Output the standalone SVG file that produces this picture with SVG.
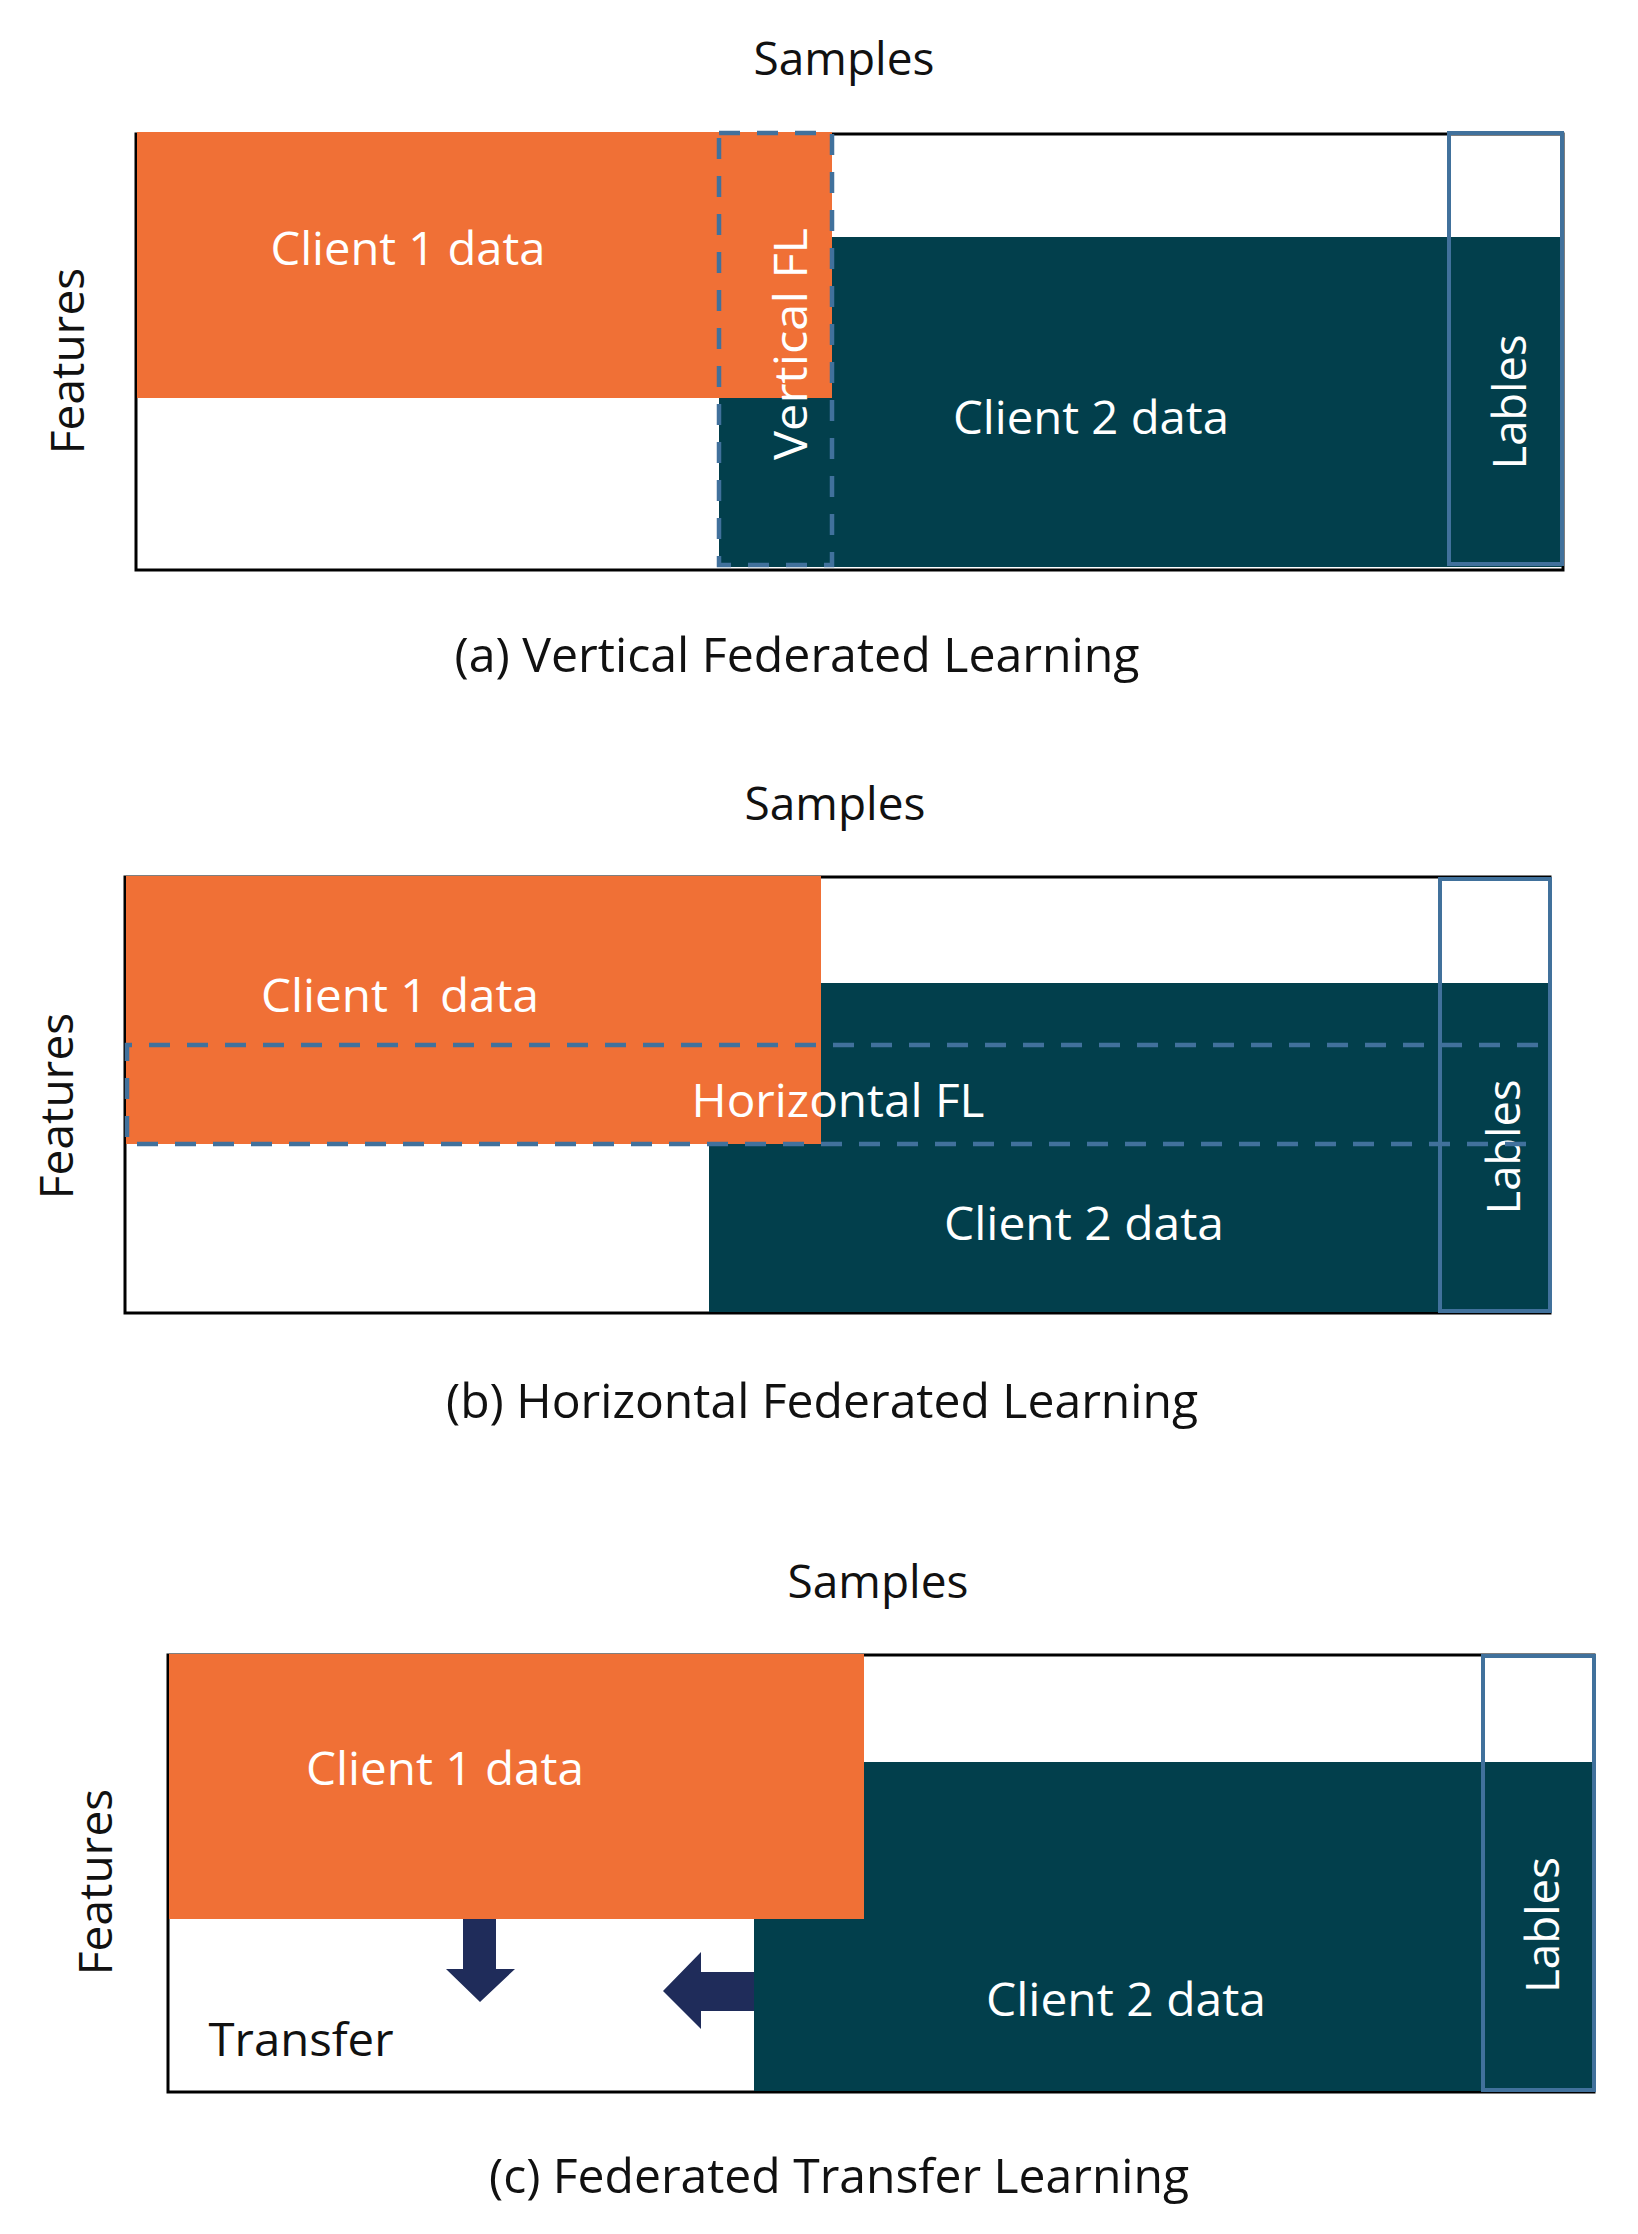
<svg xmlns="http://www.w3.org/2000/svg" width="1638" height="2234" viewBox="0 0 1638 2234">
<style>
.frame{fill:none;stroke:#000;stroke-width:3}
.c1{fill:#F07036}
.c2{fill:#023F4C}
.lab{fill:none;stroke:#41719C;stroke-width:4}
.dash{fill:none;stroke:#41719C;stroke-width:4.5;stroke-dasharray:21 17}
.t{font-family:"Open Sans","Liberation Sans",sans-serif;font-size:46px}
.w{fill:#fff}
.k{fill:#111}
.cap{font-size:48px}
.arrow{fill:#1F2C5A}
</style>
<rect width="1638" height="2234" fill="#fff"/>

<!-- (a) Vertical -->
<g id="panel-a">
  <rect class="frame" x="136" y="134" width="1427" height="436"/>
  <text class="t k" x="844" y="75" text-anchor="middle">Samples</text>
  <text class="t k" transform="translate(84,361) rotate(-90)" text-anchor="middle">Features</text>
  <text class="t k cap" x="797" y="672" text-anchor="middle" textLength="685" lengthAdjust="spacingAndGlyphs">(a) Vertical Federated Learning</text>
</g>
<g id="a-client2">
  <rect class="c2" x="832" y="237" width="730" height="330"/>
  <rect class="c2" x="719" y="398" width="114" height="169"/>
  <text class="t w" x="1091" y="434" text-anchor="middle" textLength="276" lengthAdjust="spacingAndGlyphs">Client 2 data</text>
</g>
<g id="a-client1">
  <rect class="c1" x="137" y="132" width="695" height="266"/>
  <text class="t w" x="408" y="265" text-anchor="middle" textLength="275" lengthAdjust="spacingAndGlyphs">Client 1 data</text>
</g>
<g id="a-vfl">
  <rect class="dash" x="719" y="133" width="113" height="432"/>
  <text class="t w" transform="translate(807,344) rotate(-90)" text-anchor="middle" font-size="48" textLength="232" lengthAdjust="spacingAndGlyphs">Vertical FL</text>
</g>
<g id="a-labels">
  <rect class="lab" x="1449" y="133" width="113" height="431"/>
  <text class="t w" transform="translate(1526,402) rotate(-90)" text-anchor="middle" font-size="45" textLength="135" lengthAdjust="spacingAndGlyphs">Lables</text>
</g>

<!-- (b) Horizontal -->
<g id="panel-b">
  <rect class="frame" x="125" y="877" width="1425" height="436"/>
  <text class="t k" x="835" y="820" text-anchor="middle">Samples</text>
  <text class="t k" transform="translate(73,1106) rotate(-90)" text-anchor="middle">Features</text>
  <text class="t k cap" x="822" y="1418" text-anchor="middle" textLength="752" lengthAdjust="spacingAndGlyphs">(b) Horizontal Federated Learning</text>
</g>
<g id="b-client2">
  <rect class="c2" x="821" y="983" width="728" height="329"/>
  <rect class="c2" x="709" y="1144" width="113" height="168"/>
  <text class="t w" x="1084" y="1240" text-anchor="middle" textLength="280" lengthAdjust="spacingAndGlyphs">Client 2 data</text>
</g>
<g id="b-client1">
  <rect class="c1" x="126" y="876" width="695" height="268"/>
  <text class="t w" x="400" y="1012" text-anchor="middle" textLength="278" lengthAdjust="spacingAndGlyphs">Client 1 data</text>
</g>
<g id="b-labels">
  <rect class="lab" x="1440" y="879" width="110" height="432"/>
  <text class="t w" transform="translate(1520,1147) rotate(-90)" text-anchor="middle" font-size="45" textLength="135" lengthAdjust="spacingAndGlyphs">Lables</text>
</g>
<g id="b-hfl">
  <path class="dash" d="M1538,1045 H127 V1144 H1538"/>
  <text class="t w" x="838" y="1117" text-anchor="middle" textLength="293" lengthAdjust="spacingAndGlyphs">Horizontal FL</text>
</g>

<!-- (c) Transfer -->
<g id="panel-c">
  <rect class="frame" x="168" y="1655" width="1426" height="437"/>
  <text class="t k" x="878" y="1598" text-anchor="middle">Samples</text>
  <text class="t k" transform="translate(112,1882) rotate(-90)" text-anchor="middle">Features</text>
  <text class="t k cap" x="839" y="2193" text-anchor="middle" textLength="700" lengthAdjust="spacingAndGlyphs">(c) Federated Transfer Learning</text>
</g>
<g id="c-client2">
  <rect class="c2" x="864" y="1762" width="729" height="329"/>
  <rect class="c2" x="754" y="1919" width="111" height="172"/>
  <text class="t w" x="1126" y="2016" text-anchor="middle" textLength="280" lengthAdjust="spacingAndGlyphs">Client 2 data</text>
</g>
<g id="c-client1">
  <rect class="c1" x="169" y="1654" width="695" height="265"/>
  <text class="t w" x="445" y="1785" text-anchor="middle" textLength="278" lengthAdjust="spacingAndGlyphs">Client 1 data</text>
</g>
<g id="c-labels">
  <rect class="lab" x="1483" y="1656" width="111" height="434"/>
  <text class="t w" transform="translate(1559,1925) rotate(-90)" text-anchor="middle" font-size="45" textLength="136" lengthAdjust="spacingAndGlyphs">Lables</text>
</g>
<g id="c-transfer">
  <text class="t k" x="301" y="2056" text-anchor="middle" textLength="185" lengthAdjust="spacingAndGlyphs">Transfer</text>
</g>

<g id="connectors">
  <polygon class="arrow" points="463,1919 496,1919 496,1969 515,1969 480,2002 446,1969 463,1969"/>
  <polygon class="arrow" points="754,1972 754,2011 701,2011 701,2029 663,1991 701,1952 701,1972"/>
</g>
</svg>
